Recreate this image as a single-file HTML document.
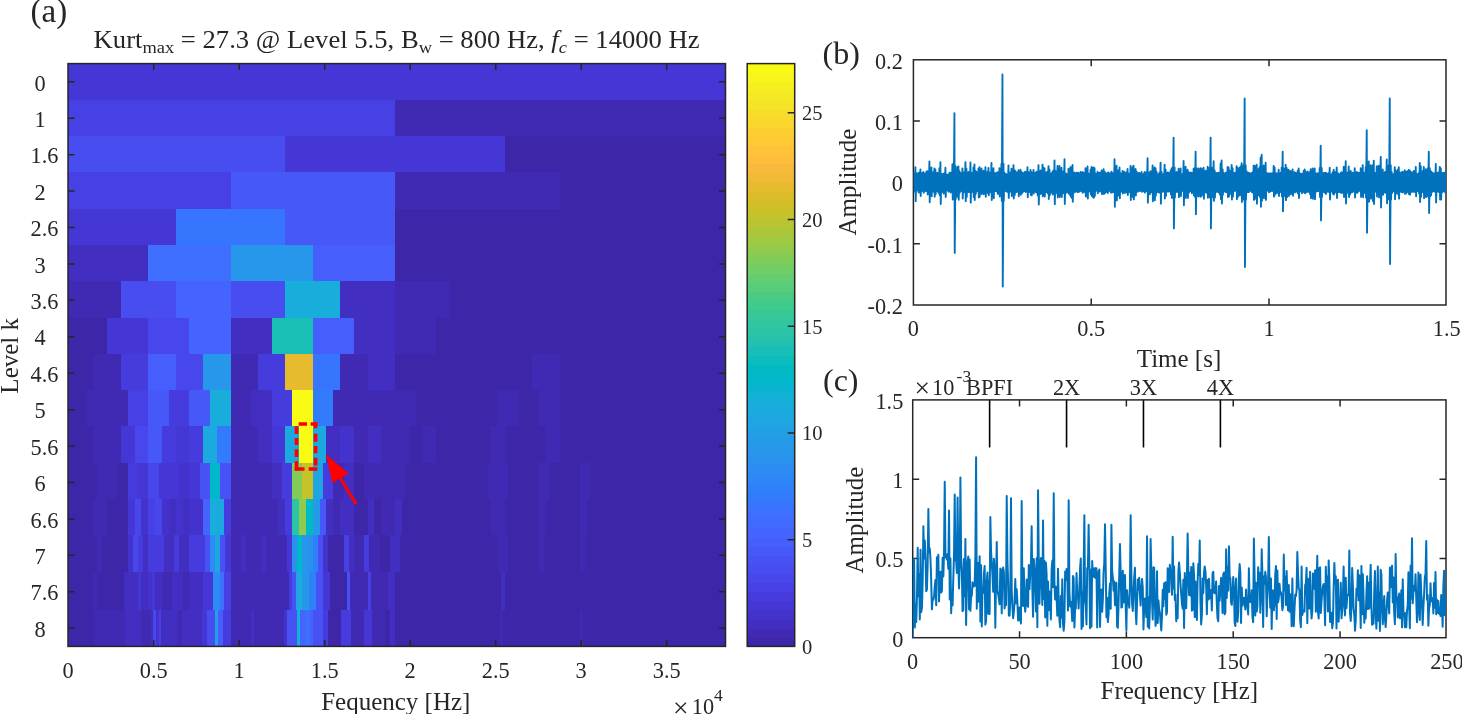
<!DOCTYPE html>
<html><head><meta charset="utf-8"><title>Kurtogram</title>
<style>html,body{margin:0;padding:0;background:#fff}svg{display:block}text{font-family:"Liberation Serif","Times New Roman",serif;fill:#262626}</style></head><body>
<svg width="1462" height="714" viewBox="0 0 1462 714">
<rect width="1462" height="714" fill="#fff"/>
<clipPath id="hc"><rect x="68" y="63.6" width="657.5" height="582.8"/></clipPath>
<g shape-rendering="crispEdges" clip-path="url(#hc)">
<rect x="68" y="63.6" width="657.5" height="582.8" fill="#3E26A8"/>
<rect x="66" y="63.6" width="661" height="36.4" fill="#4537D5"/>
<rect x="66" y="100" width="329" height="36.2" fill="#4741E5"/>
<rect x="395" y="100" width="332" height="36.2" fill="#402AB4"/>
<rect x="66" y="136.2" width="219.33" height="35.7" fill="#484DF0"/>
<rect x="285.33" y="136.2" width="219.33" height="35.7" fill="#4537D5"/>
<rect x="66" y="171.9" width="164.5" height="36.9" fill="#4741E5"/>
<rect x="230.5" y="171.9" width="164.5" height="36.9" fill="#4758F8"/>
<rect x="395" y="171.9" width="164.5" height="36.9" fill="#402AB4"/>
<rect x="66" y="208.8" width="109.67" height="36" fill="#4537D5"/>
<rect x="175.67" y="208.8" width="109.67" height="36" fill="#3875FE"/>
<rect x="285.33" y="208.8" width="109.67" height="36" fill="#4758F8"/>
<rect x="66" y="244.8" width="82.25" height="36" fill="#422EC0"/>
<rect x="148.25" y="244.8" width="82.25" height="36" fill="#3E6FFF"/>
<rect x="230.5" y="244.8" width="82.25" height="36" fill="#2797EB"/>
<rect x="312.75" y="244.8" width="82.25" height="36" fill="#465EFB"/>
<rect x="66" y="280.8" width="54.83" height="36.7" fill="#402AB4"/>
<rect x="120.83" y="280.8" width="54.83" height="36.7" fill="#484DF0"/>
<rect x="175.67" y="280.8" width="54.83" height="36.7" fill="#4563FD"/>
<rect x="230.5" y="280.8" width="54.83" height="36.7" fill="#484DF0"/>
<rect x="285.33" y="280.8" width="54.83" height="36.7" fill="#18ADDB"/>
<rect x="340.17" y="280.8" width="54.83" height="36.7" fill="#422EC0"/>
<rect x="395" y="280.8" width="54.83" height="36.7" fill="#402AB4"/>
<rect x="107.12" y="317.5" width="41.12" height="36.1" fill="#4537D5"/>
<rect x="148.25" y="317.5" width="41.12" height="36.1" fill="#4747EB"/>
<rect x="189.38" y="317.5" width="41.12" height="36.1" fill="#4563FD"/>
<rect x="230.5" y="317.5" width="41.12" height="36.1" fill="#422EC0"/>
<rect x="271.62" y="317.5" width="41.12" height="36.1" fill="#19BFB6"/>
<rect x="312.75" y="317.5" width="41.12" height="36.1" fill="#465EFB"/>
<rect x="353.88" y="317.5" width="41.12" height="36.1" fill="#422EC0"/>
<rect x="395" y="317.5" width="41.12" height="36.1" fill="#402AB4"/>
<rect x="93.42" y="353.6" width="27.42" height="36.4" fill="#402AB4"/>
<rect x="120.83" y="353.6" width="27.42" height="36.4" fill="#463CDE"/>
<rect x="148.25" y="353.6" width="27.42" height="36.4" fill="#465EFB"/>
<rect x="175.67" y="353.6" width="27.42" height="36.4" fill="#4747EB"/>
<rect x="203.08" y="353.6" width="27.42" height="36.4" fill="#2797EB"/>
<rect x="230.5" y="353.6" width="27.42" height="36.4" fill="#402AB4"/>
<rect x="257.92" y="353.6" width="27.42" height="36.4" fill="#463CDE"/>
<rect x="285.33" y="353.6" width="27.42" height="36.4" fill="#E6BB2D"/>
<rect x="312.75" y="353.6" width="27.42" height="36.4" fill="#3875FE"/>
<rect x="340.17" y="353.6" width="27.42" height="36.4" fill="#402AB4"/>
<rect x="367.58" y="353.6" width="27.42" height="36.4" fill="#422EC0"/>
<rect x="532.08" y="353.6" width="27.42" height="36.4" fill="#402AB4"/>
<rect x="86.56" y="390" width="41.12" height="35.8" fill="#402AB4"/>
<rect x="127.69" y="390" width="20.56" height="35.8" fill="#4741E5"/>
<rect x="148.25" y="390" width="20.56" height="35.8" fill="#4758F8"/>
<rect x="168.81" y="390" width="20.56" height="35.8" fill="#463CDE"/>
<rect x="189.38" y="390" width="20.56" height="35.8" fill="#4758F8"/>
<rect x="209.94" y="390" width="20.56" height="35.8" fill="#18ADDB"/>
<rect x="230.5" y="390" width="20.56" height="35.8" fill="#402AB4"/>
<rect x="251.06" y="390" width="20.56" height="35.8" fill="#422EC0"/>
<rect x="271.62" y="390" width="20.56" height="35.8" fill="#463CDE"/>
<rect x="292.19" y="390" width="20.56" height="35.8" fill="#F9FB15"/>
<rect x="312.75" y="390" width="20.56" height="35.8" fill="#327CFC"/>
<rect x="333.31" y="390" width="82.25" height="35.8" fill="#402AB4"/>
<rect x="497.81" y="390" width="20.56" height="35.8" fill="#402AB4"/>
<rect x="538.94" y="390" width="20.56" height="35.8" fill="#402AB4"/>
<rect x="93.42" y="425.8" width="27.42" height="36.7" fill="#402AB4"/>
<rect x="120.83" y="425.8" width="13.71" height="36.7" fill="#4537D5"/>
<rect x="134.54" y="425.8" width="13.71" height="36.7" fill="#4747EB"/>
<rect x="148.25" y="425.8" width="13.71" height="36.7" fill="#4758F8"/>
<rect x="161.96" y="425.8" width="13.71" height="36.7" fill="#463CDE"/>
<rect x="175.67" y="425.8" width="13.71" height="36.7" fill="#4537D5"/>
<rect x="189.38" y="425.8" width="13.71" height="36.7" fill="#463CDE"/>
<rect x="203.08" y="425.8" width="13.71" height="36.7" fill="#1CA9DF"/>
<rect x="216.79" y="425.8" width="13.71" height="36.7" fill="#327CFC"/>
<rect x="230.5" y="425.8" width="27.42" height="36.7" fill="#402AB4"/>
<rect x="257.92" y="425.8" width="13.71" height="36.7" fill="#422EC0"/>
<rect x="271.62" y="425.8" width="13.71" height="36.7" fill="#4537D5"/>
<rect x="285.33" y="425.8" width="13.71" height="36.7" fill="#1CA9DF"/>
<rect x="299.04" y="425.8" width="13.71" height="36.7" fill="#F9FB15"/>
<rect x="312.75" y="425.8" width="13.71" height="36.7" fill="#1CA9DF"/>
<rect x="326.46" y="425.8" width="13.71" height="36.7" fill="#422EC0"/>
<rect x="340.17" y="425.8" width="13.71" height="36.7" fill="#4332CB"/>
<rect x="353.88" y="425.8" width="13.71" height="36.7" fill="#402AB4"/>
<rect x="367.58" y="425.8" width="13.71" height="36.7" fill="#422EC0"/>
<rect x="381.29" y="425.8" width="27.42" height="36.7" fill="#402AB4"/>
<rect x="422.42" y="425.8" width="13.71" height="36.7" fill="#402AB4"/>
<rect x="490.96" y="425.8" width="13.71" height="36.7" fill="#402AB4"/>
<rect x="545.79" y="425.8" width="13.71" height="36.7" fill="#402AB4"/>
<rect x="96.84" y="462.5" width="20.56" height="36.5" fill="#402AB4"/>
<rect x="127.69" y="462.5" width="10.28" height="36.5" fill="#463CDE"/>
<rect x="137.97" y="462.5" width="10.28" height="36.5" fill="#4537D5"/>
<rect x="148.25" y="462.5" width="10.28" height="36.5" fill="#4747EB"/>
<rect x="158.53" y="462.5" width="20.56" height="36.5" fill="#4537D5"/>
<rect x="179.09" y="462.5" width="10.28" height="36.5" fill="#4332CB"/>
<rect x="189.38" y="462.5" width="10.28" height="36.5" fill="#4537D5"/>
<rect x="199.66" y="462.5" width="10.28" height="36.5" fill="#4852F4"/>
<rect x="209.94" y="462.5" width="10.28" height="36.5" fill="#01B8CA"/>
<rect x="220.22" y="462.5" width="10.28" height="36.5" fill="#4852F4"/>
<rect x="230.5" y="462.5" width="41.12" height="36.5" fill="#402AB4"/>
<rect x="271.62" y="462.5" width="10.28" height="36.5" fill="#422EC0"/>
<rect x="281.91" y="462.5" width="10.28" height="36.5" fill="#463CDE"/>
<rect x="292.19" y="462.5" width="10.28" height="36.5" fill="#81CC59"/>
<rect x="302.47" y="462.5" width="10.28" height="36.5" fill="#C5C22A"/>
<rect x="312.75" y="462.5" width="10.28" height="36.5" fill="#20A5E3"/>
<rect x="323.03" y="462.5" width="10.28" height="36.5" fill="#463CDE"/>
<rect x="333.31" y="462.5" width="10.28" height="36.5" fill="#402AB4"/>
<rect x="343.59" y="462.5" width="10.28" height="36.5" fill="#422EC0"/>
<rect x="364.16" y="462.5" width="41.12" height="36.5" fill="#402AB4"/>
<rect x="487.53" y="462.5" width="20.56" height="36.5" fill="#402AB4"/>
<rect x="538.94" y="462.5" width="10.28" height="36.5" fill="#402AB4"/>
<rect x="580.06" y="462.5" width="10.28" height="36.5" fill="#402AB4"/>
<rect x="93.42" y="499" width="13.71" height="35.9" fill="#402AB4"/>
<rect x="127.69" y="499" width="6.85" height="35.9" fill="#4537D5"/>
<rect x="134.54" y="499" width="6.85" height="35.9" fill="#4747EB"/>
<rect x="141.4" y="499" width="6.85" height="35.9" fill="#4332CB"/>
<rect x="148.25" y="499" width="6.85" height="35.9" fill="#4741E5"/>
<rect x="155.1" y="499" width="6.85" height="35.9" fill="#4747EB"/>
<rect x="161.96" y="499" width="6.85" height="35.9" fill="#4332CB"/>
<rect x="168.81" y="499" width="6.85" height="35.9" fill="#422EC0"/>
<rect x="175.67" y="499" width="6.85" height="35.9" fill="#4332CB"/>
<rect x="182.52" y="499" width="6.85" height="35.9" fill="#422EC0"/>
<rect x="189.38" y="499" width="13.71" height="35.9" fill="#4332CB"/>
<rect x="203.08" y="499" width="6.85" height="35.9" fill="#4563FD"/>
<rect x="209.94" y="499" width="6.85" height="35.9" fill="#18ADDB"/>
<rect x="216.79" y="499" width="6.85" height="35.9" fill="#1CA9DF"/>
<rect x="223.65" y="499" width="6.85" height="35.9" fill="#463CDE"/>
<rect x="230.5" y="499" width="47.98" height="35.9" fill="#402AB4"/>
<rect x="278.48" y="499" width="6.85" height="35.9" fill="#422EC0"/>
<rect x="285.33" y="499" width="6.85" height="35.9" fill="#463CDE"/>
<rect x="292.19" y="499" width="6.85" height="35.9" fill="#2CC4A7"/>
<rect x="299.04" y="499" width="6.85" height="35.9" fill="#8FCB4E"/>
<rect x="305.9" y="499" width="6.85" height="35.9" fill="#02BAC3"/>
<rect x="312.75" y="499" width="6.85" height="35.9" fill="#259BE8"/>
<rect x="319.6" y="499" width="6.85" height="35.9" fill="#4758F8"/>
<rect x="326.46" y="499" width="6.85" height="35.9" fill="#422EC0"/>
<rect x="333.31" y="499" width="6.85" height="35.9" fill="#402AB4"/>
<rect x="340.17" y="499" width="13.71" height="35.9" fill="#422EC0"/>
<rect x="367.58" y="499" width="6.85" height="35.9" fill="#422EC0"/>
<rect x="381.29" y="499" width="13.71" height="35.9" fill="#402AB4"/>
<rect x="395" y="499" width="6.85" height="35.9" fill="#422EC0"/>
<rect x="490.96" y="499" width="13.71" height="35.9" fill="#402AB4"/>
<rect x="538.94" y="499" width="6.85" height="35.9" fill="#402AB4"/>
<rect x="580.06" y="499" width="6.85" height="35.9" fill="#402AB4"/>
<rect x="96.84" y="534.9" width="5.14" height="37.1" fill="#402AB4"/>
<rect x="127.69" y="534.9" width="5.14" height="37.1" fill="#4332CB"/>
<rect x="132.83" y="534.9" width="5.14" height="37.1" fill="#4747EB"/>
<rect x="137.97" y="534.9" width="5.14" height="37.1" fill="#463CDE"/>
<rect x="143.11" y="534.9" width="5.14" height="37.1" fill="#422EC0"/>
<rect x="148.25" y="534.9" width="15.42" height="37.1" fill="#463CDE"/>
<rect x="163.67" y="534.9" width="10.28" height="37.1" fill="#422EC0"/>
<rect x="173.95" y="534.9" width="5.14" height="37.1" fill="#463CDE"/>
<rect x="179.09" y="534.9" width="10.28" height="37.1" fill="#422EC0"/>
<rect x="189.38" y="534.9" width="15.42" height="37.1" fill="#463CDE"/>
<rect x="204.8" y="534.9" width="5.14" height="37.1" fill="#4852F4"/>
<rect x="209.94" y="534.9" width="5.14" height="37.1" fill="#2D8CF3"/>
<rect x="215.08" y="534.9" width="5.14" height="37.1" fill="#20A5E3"/>
<rect x="220.22" y="534.9" width="5.14" height="37.1" fill="#4852F4"/>
<rect x="225.36" y="534.9" width="5.14" height="37.1" fill="#4537D5"/>
<rect x="230.5" y="534.9" width="10.28" height="37.1" fill="#402AB4"/>
<rect x="240.78" y="534.9" width="5.14" height="37.1" fill="#422EC0"/>
<rect x="245.92" y="534.9" width="15.42" height="37.1" fill="#402AB4"/>
<rect x="261.34" y="534.9" width="5.14" height="37.1" fill="#422EC0"/>
<rect x="266.48" y="534.9" width="20.56" height="37.1" fill="#402AB4"/>
<rect x="287.05" y="534.9" width="5.14" height="37.1" fill="#4537D5"/>
<rect x="292.19" y="534.9" width="5.14" height="37.1" fill="#2B91EF"/>
<rect x="297.33" y="534.9" width="5.14" height="37.1" fill="#01B8CA"/>
<rect x="302.47" y="534.9" width="5.14" height="37.1" fill="#2797EB"/>
<rect x="307.61" y="534.9" width="5.14" height="37.1" fill="#2B91EF"/>
<rect x="312.75" y="534.9" width="5.14" height="37.1" fill="#2F81FA"/>
<rect x="317.89" y="534.9" width="5.14" height="37.1" fill="#4852F4"/>
<rect x="323.03" y="534.9" width="5.14" height="37.1" fill="#4332CB"/>
<rect x="343.59" y="534.9" width="5.14" height="37.1" fill="#4741E5"/>
<rect x="348.73" y="534.9" width="5.14" height="37.1" fill="#422EC0"/>
<rect x="353.88" y="534.9" width="10.28" height="37.1" fill="#402AB4"/>
<rect x="364.16" y="534.9" width="5.14" height="37.1" fill="#463CDE"/>
<rect x="369.3" y="534.9" width="10.28" height="37.1" fill="#402AB4"/>
<rect x="389.86" y="534.9" width="10.28" height="37.1" fill="#422EC0"/>
<rect x="497.81" y="534.9" width="10.28" height="37.1" fill="#402AB4"/>
<rect x="538.94" y="534.9" width="5.14" height="37.1" fill="#402AB4"/>
<rect x="580.06" y="534.9" width="5.14" height="37.1" fill="#402AB4"/>
<rect x="93.42" y="572" width="3.43" height="37.5" fill="#402AB4"/>
<rect x="124.26" y="572" width="13.71" height="37.5" fill="#422EC0"/>
<rect x="137.97" y="572" width="3.43" height="37.5" fill="#4537D5"/>
<rect x="141.4" y="572" width="6.85" height="37.5" fill="#422EC0"/>
<rect x="148.25" y="572" width="3.43" height="37.5" fill="#4332CB"/>
<rect x="151.68" y="572" width="3.43" height="37.5" fill="#4537D5"/>
<rect x="155.1" y="572" width="6.85" height="37.5" fill="#422EC0"/>
<rect x="161.96" y="572" width="10.28" height="37.5" fill="#402AB4"/>
<rect x="172.24" y="572" width="10.28" height="37.5" fill="#422EC0"/>
<rect x="182.52" y="572" width="6.85" height="37.5" fill="#402AB4"/>
<rect x="189.38" y="572" width="13.71" height="37.5" fill="#422EC0"/>
<rect x="203.08" y="572" width="10.28" height="37.5" fill="#4537D5"/>
<rect x="213.36" y="572" width="6.85" height="37.5" fill="#2D8CF3"/>
<rect x="220.22" y="572" width="3.43" height="37.5" fill="#3E6FFF"/>
<rect x="223.65" y="572" width="6.85" height="37.5" fill="#4741E5"/>
<rect x="230.5" y="572" width="58.26" height="37.5" fill="#402AB4"/>
<rect x="288.76" y="572" width="3.43" height="37.5" fill="#463CDE"/>
<rect x="292.19" y="572" width="3.43" height="37.5" fill="#4852F4"/>
<rect x="295.61" y="572" width="3.43" height="37.5" fill="#20A5E3"/>
<rect x="299.04" y="572" width="3.43" height="37.5" fill="#18ADDB"/>
<rect x="302.47" y="572" width="6.85" height="37.5" fill="#2797EB"/>
<rect x="309.32" y="572" width="6.85" height="37.5" fill="#2F81FA"/>
<rect x="316.18" y="572" width="6.85" height="37.5" fill="#4852F4"/>
<rect x="323.03" y="572" width="6.85" height="37.5" fill="#4537D5"/>
<rect x="347.02" y="572" width="3.43" height="37.5" fill="#4852F4"/>
<rect x="350.45" y="572" width="17.14" height="37.5" fill="#402AB4"/>
<rect x="367.58" y="572" width="3.43" height="37.5" fill="#4741E5"/>
<rect x="371.01" y="572" width="17.14" height="37.5" fill="#402AB4"/>
<rect x="388.15" y="572" width="6.85" height="37.5" fill="#422EC0"/>
<rect x="501.24" y="572" width="3.43" height="37.5" fill="#422EC0"/>
<rect x="94.27" y="609.5" width="30.84" height="36.9" fill="#402AB4"/>
<rect x="125.12" y="609.5" width="15.42" height="36.9" fill="#422EC0"/>
<rect x="140.54" y="609.5" width="10.28" height="36.9" fill="#402AB4"/>
<rect x="150.82" y="609.5" width="2.57" height="36.9" fill="#422EC0"/>
<rect x="153.39" y="609.5" width="2.57" height="36.9" fill="#4747EB"/>
<rect x="155.96" y="609.5" width="2.57" height="36.9" fill="#4332CB"/>
<rect x="158.53" y="609.5" width="2.57" height="36.9" fill="#4741E5"/>
<rect x="161.1" y="609.5" width="15.42" height="36.9" fill="#422EC0"/>
<rect x="176.52" y="609.5" width="5.14" height="36.9" fill="#402AB4"/>
<rect x="181.66" y="609.5" width="20.56" height="36.9" fill="#422EC0"/>
<rect x="202.23" y="609.5" width="5.14" height="36.9" fill="#4537D5"/>
<rect x="207.37" y="609.5" width="7.71" height="36.9" fill="#484DF0"/>
<rect x="215.08" y="609.5" width="2.57" height="36.9" fill="#23A0E5"/>
<rect x="217.65" y="609.5" width="5.14" height="36.9" fill="#465EFB"/>
<rect x="222.79" y="609.5" width="7.71" height="36.9" fill="#463CDE"/>
<rect x="230.5" y="609.5" width="20.56" height="36.9" fill="#402AB4"/>
<rect x="251.06" y="609.5" width="2.57" height="36.9" fill="#422EC0"/>
<rect x="253.63" y="609.5" width="30.84" height="36.9" fill="#402AB4"/>
<rect x="284.48" y="609.5" width="2.57" height="36.9" fill="#4332CB"/>
<rect x="287.05" y="609.5" width="10.28" height="36.9" fill="#4852F4"/>
<rect x="297.33" y="609.5" width="2.57" height="36.9" fill="#12B1D6"/>
<rect x="299.9" y="609.5" width="5.14" height="36.9" fill="#4563FD"/>
<rect x="305.04" y="609.5" width="5.14" height="36.9" fill="#3E6FFF"/>
<rect x="310.18" y="609.5" width="2.57" height="36.9" fill="#4563FD"/>
<rect x="312.75" y="609.5" width="10.28" height="36.9" fill="#4852F4"/>
<rect x="323.03" y="609.5" width="5.14" height="36.9" fill="#463CDE"/>
<rect x="341.02" y="609.5" width="10.28" height="36.9" fill="#463CDE"/>
<rect x="351.3" y="609.5" width="12.85" height="36.9" fill="#402AB4"/>
<rect x="364.16" y="609.5" width="7.71" height="36.9" fill="#4537D5"/>
<rect x="371.87" y="609.5" width="12.85" height="36.9" fill="#402AB4"/>
<rect x="389.86" y="609.5" width="5.14" height="36.9" fill="#422EC0"/>
<rect x="500.38" y="609.5" width="2.57" height="36.9" fill="#402AB4"/>
<rect x="580.06" y="609.5" width="2.57" height="36.9" fill="#402AB4"/>
</g>
<g stroke="#262626" stroke-width="1.5" fill="none">
<rect x="68" y="63.6" width="657.5" height="582.8"/>
<path d="M153.7 646.4v-6.5M153.7 63.6v6.5M239.2 646.4v-6.5M239.2 63.6v6.5M324.7 646.4v-6.5M324.7 63.6v6.5M410.2 646.4v-6.5M410.2 63.6v6.5M495.7 646.4v-6.5M495.7 63.6v6.5M581.2 646.4v-6.5M581.2 63.6v6.5M666.7 646.4v-6.5M666.7 63.6v6.5M68 81.81h6.5M725.5 81.81h-6.5M68 118.24h6.5M725.5 118.24h-6.5M68 154.66h6.5M725.5 154.66h-6.5M68 191.09h6.5M725.5 191.09h-6.5M68 227.51h6.5M725.5 227.51h-6.5M68 263.94h6.5M725.5 263.94h-6.5M68 300.36h6.5M725.5 300.36h-6.5M68 336.79h6.5M725.5 336.79h-6.5M68 373.21h6.5M725.5 373.21h-6.5M68 409.64h6.5M725.5 409.64h-6.5M68 446.06h6.5M725.5 446.06h-6.5M68 482.49h6.5M725.5 482.49h-6.5M68 518.91h6.5M725.5 518.91h-6.5M68 555.34h6.5M725.5 555.34h-6.5M68 591.76h6.5M725.5 591.76h-6.5M68 628.19h6.5M725.5 628.19h-6.5"/>
</g>
<text x="40" y="90.51" font-size="22.3" text-anchor="middle">0</text>
<text x="40" y="126.94" font-size="22.3" text-anchor="middle">1</text>
<text x="44.5" y="163.36" font-size="22.3" text-anchor="middle">1.6</text>
<text x="40" y="199.79" font-size="22.3" text-anchor="middle">2</text>
<text x="44.5" y="236.21" font-size="22.3" text-anchor="middle">2.6</text>
<text x="40" y="272.64" font-size="22.3" text-anchor="middle">3</text>
<text x="44.5" y="309.06" font-size="22.3" text-anchor="middle">3.6</text>
<text x="40" y="345.49" font-size="22.3" text-anchor="middle">4</text>
<text x="44.5" y="381.91" font-size="22.3" text-anchor="middle">4.6</text>
<text x="40" y="418.34" font-size="22.3" text-anchor="middle">5</text>
<text x="44.5" y="454.76" font-size="22.3" text-anchor="middle">5.6</text>
<text x="40" y="491.19" font-size="22.3" text-anchor="middle">6</text>
<text x="44.5" y="527.61" font-size="22.3" text-anchor="middle">6.6</text>
<text x="40" y="564.04" font-size="22.3" text-anchor="middle">7</text>
<text x="44.5" y="600.46" font-size="22.3" text-anchor="middle">7.6</text>
<text x="40" y="636.89" font-size="22.3" text-anchor="middle">8</text>
<text x="68.2" y="678.3" font-size="22.3" text-anchor="middle">0</text>
<text x="153.7" y="678.3" font-size="22.3" text-anchor="middle">0.5</text>
<text x="239.2" y="678.3" font-size="22.3" text-anchor="middle">1</text>
<text x="324.7" y="678.3" font-size="22.3" text-anchor="middle">1.5</text>
<text x="410.2" y="678.3" font-size="22.3" text-anchor="middle">2</text>
<text x="495.7" y="678.3" font-size="22.3" text-anchor="middle">2.5</text>
<text x="581.2" y="678.3" font-size="22.3" text-anchor="middle">3</text>
<text x="666.7" y="678.3" font-size="22.3" text-anchor="middle">3.5</text>
<text x="395.8" y="709.8" font-size="25" text-anchor="middle">Fequency [Hz]</text>
<text x="673" y="716.6" font-size="22.3"><tspan font-size="27.5">×</tspan><tspan x="691.8" y="714">10</tspan><tspan dy="-13" font-size="17.5">4</tspan></text>
<text transform="translate(17.9,355.8) rotate(-90)" font-size="25" text-anchor="middle">Level k</text>
<text x="30.5" y="22.4" font-size="33" fill="#000">(a)</text>
<text transform="translate(93.6,48.4) scale(1.066,1)" font-size="25.0" fill="#000">Kurt<tspan dy="5" font-size="17.3">max</tspan><tspan dy="-5"> = 27.3 @ Level 5.5, B</tspan><tspan dy="5" font-size="17.3">w</tspan><tspan dy="-5"> = 800 Hz, </tspan><tspan font-style="italic">f</tspan><tspan dy="5" font-size="17.3" font-style="italic">c</tspan><tspan dy="-5"> = 14000 Hz</tspan></text>
<g stroke="#FF0000" stroke-width="3.6" fill="none">
<path d="M296.5 424V470.8" stroke-dasharray="0 2.2 7.7 4.2 7 4.2 7.7 4.2 9.6"/>
<path d="M294.7 469H317.4" stroke-dasharray="9.8 4.2 8.7"/>
<path d="M315.6 470.8V422.2" stroke-dasharray="0 5.2 7.9 4.4 7.3 4.3 7.9 5.5 6.1"/>
<path d="M317.4 424H294.7" stroke-dasharray="6.8 3.5 8.4 4"/>
</g>
<path d="M356.2 504.1L340.5 478.3" stroke="#FF0000" stroke-width="3" fill="none"/>
<path d="M326 454.2L348.6 473.6L332.3 482.9Z" fill="#FF0000"/>
<g shape-rendering="crispEdges">
<rect x="747.2" y="637.29" width="47.5" height="9.61" fill="#3E26A8"/>
<rect x="747.2" y="628.19" width="47.5" height="9.61" fill="#402AB4"/>
<rect x="747.2" y="619.08" width="47.5" height="9.61" fill="#422EC0"/>
<rect x="747.2" y="609.98" width="47.5" height="9.61" fill="#4332CB"/>
<rect x="747.2" y="600.87" width="47.5" height="9.61" fill="#4537D5"/>
<rect x="747.2" y="591.76" width="47.5" height="9.61" fill="#463CDE"/>
<rect x="747.2" y="582.66" width="47.5" height="9.61" fill="#4741E5"/>
<rect x="747.2" y="573.55" width="47.5" height="9.61" fill="#4747EB"/>
<rect x="747.2" y="564.44" width="47.5" height="9.61" fill="#484DF0"/>
<rect x="747.2" y="555.34" width="47.5" height="9.61" fill="#4852F4"/>
<rect x="747.2" y="546.23" width="47.5" height="9.61" fill="#4758F8"/>
<rect x="747.2" y="537.12" width="47.5" height="9.61" fill="#465EFB"/>
<rect x="747.2" y="528.02" width="47.5" height="9.61" fill="#4563FD"/>
<rect x="747.2" y="518.91" width="47.5" height="9.61" fill="#4269FE"/>
<rect x="747.2" y="509.81" width="47.5" height="9.61" fill="#3E6FFF"/>
<rect x="747.2" y="500.7" width="47.5" height="9.61" fill="#3875FE"/>
<rect x="747.2" y="491.59" width="47.5" height="9.61" fill="#327CFC"/>
<rect x="747.2" y="482.49" width="47.5" height="9.61" fill="#2F81FA"/>
<rect x="747.2" y="473.38" width="47.5" height="9.61" fill="#2E87F7"/>
<rect x="747.2" y="464.27" width="47.5" height="9.61" fill="#2D8CF3"/>
<rect x="747.2" y="455.17" width="47.5" height="9.61" fill="#2B91EF"/>
<rect x="747.2" y="446.06" width="47.5" height="9.61" fill="#2797EB"/>
<rect x="747.2" y="436.96" width="47.5" height="9.61" fill="#259BE8"/>
<rect x="747.2" y="427.85" width="47.5" height="9.61" fill="#23A0E5"/>
<rect x="747.2" y="418.74" width="47.5" height="9.61" fill="#20A5E3"/>
<rect x="747.2" y="409.64" width="47.5" height="9.61" fill="#1CA9DF"/>
<rect x="747.2" y="400.53" width="47.5" height="9.61" fill="#18ADDB"/>
<rect x="747.2" y="391.43" width="47.5" height="9.61" fill="#12B1D6"/>
<rect x="747.2" y="382.32" width="47.5" height="9.61" fill="#08B5D0"/>
<rect x="747.2" y="373.21" width="47.5" height="9.61" fill="#01B8CA"/>
<rect x="747.2" y="364.11" width="47.5" height="9.61" fill="#02BAC3"/>
<rect x="747.2" y="355" width="47.5" height="9.61" fill="#0BBDBD"/>
<rect x="747.2" y="345.89" width="47.5" height="9.61" fill="#19BFB6"/>
<rect x="747.2" y="336.79" width="47.5" height="9.61" fill="#24C1AE"/>
<rect x="747.2" y="327.68" width="47.5" height="9.61" fill="#2CC4A7"/>
<rect x="747.2" y="318.57" width="47.5" height="9.61" fill="#31C69F"/>
<rect x="747.2" y="309.47" width="47.5" height="9.61" fill="#37C897"/>
<rect x="747.2" y="300.36" width="47.5" height="9.61" fill="#3FCA8E"/>
<rect x="747.2" y="291.26" width="47.5" height="9.61" fill="#4ACB84"/>
<rect x="747.2" y="282.15" width="47.5" height="9.61" fill="#57CC7A"/>
<rect x="747.2" y="273.04" width="47.5" height="9.61" fill="#64CD6F"/>
<rect x="747.2" y="263.94" width="47.5" height="9.61" fill="#72CD64"/>
<rect x="747.2" y="254.83" width="47.5" height="9.61" fill="#81CC59"/>
<rect x="747.2" y="245.73" width="47.5" height="9.61" fill="#8FCB4E"/>
<rect x="747.2" y="236.62" width="47.5" height="9.61" fill="#9DC943"/>
<rect x="747.2" y="227.51" width="47.5" height="9.61" fill="#ABC739"/>
<rect x="747.2" y="218.41" width="47.5" height="9.61" fill="#B9C431"/>
<rect x="747.2" y="209.3" width="47.5" height="9.61" fill="#C5C22A"/>
<rect x="747.2" y="200.19" width="47.5" height="9.61" fill="#D1BF27"/>
<rect x="747.2" y="191.09" width="47.5" height="9.61" fill="#DCBD29"/>
<rect x="747.2" y="181.98" width="47.5" height="9.61" fill="#E6BB2D"/>
<rect x="747.2" y="172.88" width="47.5" height="9.61" fill="#F0BA36"/>
<rect x="747.2" y="163.77" width="47.5" height="9.61" fill="#F8BA3D"/>
<rect x="747.2" y="154.66" width="47.5" height="9.61" fill="#FEBE3C"/>
<rect x="747.2" y="145.56" width="47.5" height="9.61" fill="#FEC338"/>
<rect x="747.2" y="136.45" width="47.5" height="9.61" fill="#FEC934"/>
<rect x="747.2" y="127.34" width="47.5" height="9.61" fill="#FCCF30"/>
<rect x="747.2" y="118.24" width="47.5" height="9.61" fill="#FAD62D"/>
<rect x="747.2" y="109.13" width="47.5" height="9.61" fill="#F7DC2A"/>
<rect x="747.2" y="100.02" width="47.5" height="9.61" fill="#F5E327"/>
<rect x="747.2" y="90.92" width="47.5" height="9.61" fill="#F5E924"/>
<rect x="747.2" y="81.81" width="47.5" height="9.61" fill="#F6EF20"/>
<rect x="747.2" y="72.71" width="47.5" height="9.61" fill="#F7F51B"/>
<rect x="747.2" y="63.6" width="47.5" height="9.61" fill="#F9FB15"/>
</g>
<g stroke="#262626" stroke-width="1.5" fill="none"><rect x="747.2" y="63.6" width="47.5" height="582.8"/>
<path d="M794.7 539.66h-7M794.7 432.92h-7M794.7 326.18h-7M794.7 219.44h-7M794.7 112.7h-7"/></g>
<text x="802" y="653.9" font-size="20.5">0</text>
<text x="802" y="547.16" font-size="20.5">5</text>
<text x="802" y="440.42" font-size="20.5">10</text>
<text x="802" y="333.68" font-size="20.5">15</text>
<text x="802" y="226.94" font-size="20.5">20</text>
<text x="802" y="120.2" font-size="20.5">25</text>
<g stroke="#262626" stroke-width="1.5" fill="none">
<rect x="913.4" y="59.8" width="532.6" height="245.2"/>
<path d="M1091.2 305v-6.5M1091.2 59.8v6.5M1269 305v-6.5M1269 59.8v6.5M913.4 121.1h6.5M1446 121.1h-6.5M913.4 182.4h6.5M1446 182.4h-6.5M913.4 243.7h6.5M1446 243.7h-6.5"/>
</g>
<clipPath id="cb"><rect x="913.4" y="59.8" width="532.6" height="245.2"/></clipPath>
<g clip-path="url(#cb)"><path d="M914.2 173.27 914.5 191.43 914.4 173.34 914.7 190.49 915.4 167.32 915.7 201.17 916.4 173.23 916.7 190.65 917.4 174.72 917.7 189.75 918.4 172.93 918.7 192.6 919.4 172.48 919.7 191.8 920.41 169.37 920.71 195.95 921.41 173.65 921.71 191.06 922.41 172.87 922.71 190.73 923.41 172.05 923.71 192.69 924.41 174.37 924.71 191.42 925.41 173.44 925.71 190.61 926.41 171.76 926.71 191.14 927.41 171.21 927.71 194.48 928.41 171.75 928.71 192.05 929.41 161.5 929.71 202.26 930.41 171.87 930.71 193.6 931.41 167.39 931.71 196.33 932.41 173.87 932.71 191.59 933.42 172.04 933.72 191.7 934.42 168.48 934.72 196.65 935.42 169.7 935.72 194.08 936.42 174.38 936.72 190.89 937.42 172.66 937.72 191.48 938.42 173.11 938.72 193 939.42 168.14 939.72 195.2 940.42 162.23 940.72 204.07 941.42 173.82 941.72 189.83 942.42 174.12 942.72 191.96 943.42 173.84 943.72 193.61 944.42 173.06 944.72 191.65 945.42 167.8 945.72 196.98 946.42 174.46 946.72 190.03 947.43 174.63 947.73 190.44 948.43 174.87 948.73 191.8 949.43 172.67 949.73 191 950.43 172.61 950.73 192.53 951.43 173.35 951.73 190.8 952.43 164.18 952.73 199.57 953.43 165.99 953.73 198.89 954.43 113.31 954.73 252.89 955.43 165.99 955.73 198.89 956.43 172.46 956.73 190.85 957.43 167.27 957.73 196.89 958.43 166.45 958.73 199.74 959.43 171.12 959.73 192.66 960.44 172.83 960.74 191.18 961.44 173.47 961.74 189.81 962.44 168.38 962.74 198.53 963.44 172.26 963.74 192.45 964.44 173.29 964.74 191.4 965.44 162.08 965.74 201.13 966.44 168.76 966.74 197.03 967.44 173.87 967.74 190.69 968.44 172.07 968.74 192.16 969.44 173.68 969.74 190.85 970.44 162.34 970.74 202.66 971.44 172.78 971.74 192.25 972.44 173.64 972.74 190.86 973.45 167.39 973.75 197.16 974.45 164.35 974.75 200.04 975.45 170.85 975.75 194.04 976.45 171.87 976.75 191.25 977.45 172.81 977.75 191.38 978.45 168.59 978.75 197.37 979.45 167.09 979.75 196.68 980.45 173.46 980.75 191.39 981.45 168.44 981.75 194.09 982.45 173.07 982.75 192.36 983.45 170.63 983.75 194.24 984.45 171.78 984.75 192.6 985.45 167.14 985.75 196.84 986.45 173.96 986.75 191.35 987.46 171.67 987.76 192.99 988.46 167.93 988.76 195.23 989.46 172.36 989.76 192.43 990.46 173.63 990.76 191.13 991.46 162.89 991.76 200.02 992.46 173.14 992.76 189.92 993.46 168.18 993.76 198.34 994.46 173.02 994.76 191.02 995.46 173.59 995.76 190.94 996.46 172.92 996.76 191.37 997.46 172.29 997.76 193.87 998.46 172.28 998.76 192.9 999.46 168.24 999.76 196.56 1000.47 174.28 1000.77 190.53 1001.47 163.67 1001.77 200.91 1002.47 74.51 1002.77 286.61 1003.47 163.67 1003.77 200.91 1004.47 172.8 1004.77 191.11 1005.47 174.21 1005.77 190.55 1006.47 174.08 1006.77 191.48 1007.47 174.09 1007.77 192.02 1008.47 165.4 1008.77 197.91 1009.47 175 1009.77 191.5 1010.47 172.31 1010.77 191.64 1011.47 168.65 1011.77 195.96 1012.47 173.86 1012.77 191.64 1013.48 165.11 1013.78 198.55 1014.48 170.14 1014.78 194.88 1015.48 171.21 1015.78 192.22 1016.48 172.8 1016.78 191.84 1017.48 172.51 1017.78 191.86 1018.48 170.17 1018.78 196.24 1019.48 171.95 1019.78 193.14 1020.48 169.6 1020.78 194.75 1021.48 172.07 1021.78 193.56 1022.48 172.86 1022.78 192.02 1023.48 173.83 1023.78 191.24 1024.48 172.13 1024.78 191.04 1025.48 171.73 1025.78 192.01 1026.48 173.14 1026.78 190.64 1027.49 167.14 1027.79 197.22 1028.49 172.28 1028.79 191.11 1029.49 172.78 1029.79 192.08 1030.49 169.97 1030.79 194.81 1031.49 172.17 1031.79 195.38 1032.49 173.04 1032.79 190.74 1033.49 169.85 1033.79 193.46 1034.49 172.74 1034.79 191.05 1035.49 173.69 1035.79 192.01 1036.49 171.67 1036.79 192.63 1037.49 171.86 1037.79 195.41 1038.49 165.08 1038.79 204.49 1039.49 173.28 1039.79 190.11 1040.5 170.45 1040.8 193.95 1041.5 170.49 1041.8 192.57 1042.5 164.58 1042.8 196.38 1043.5 167.59 1043.8 195.47 1044.5 168.55 1044.8 196.59 1045.5 173.3 1045.8 192.2 1046.5 172.41 1046.8 192.16 1047.5 171.5 1047.8 193.25 1048.5 166.08 1048.8 199.04 1049.5 169.82 1049.8 195.16 1050.5 173.56 1050.8 192.93 1051.5 173.43 1051.8 191.43 1052.5 171.72 1052.8 194.49 1053.51 170.37 1053.81 193 1054.51 160.55 1054.81 204.13 1055.51 171.07 1055.81 193.39 1056.51 173.59 1056.81 191.2 1057.51 165.91 1057.81 197.44 1058.51 172.6 1058.81 192.74 1059.51 165.88 1059.81 196.95 1060.51 174.54 1060.81 190.44 1061.51 167.75 1061.81 197.08 1062.51 172.04 1062.81 192.22 1063.51 171.12 1063.81 193.26 1064.51 159.31 1064.81 204.08 1065.51 173.1 1065.81 192.05 1066.51 173.9 1066.81 192.67 1067.52 174.33 1067.82 191.6 1068.52 168.63 1068.82 193.57 1069.52 169.87 1069.82 194.77 1070.52 166.84 1070.82 196.5 1071.52 168.49 1071.82 198.06 1072.52 165.02 1072.82 201.7 1073.52 173.12 1073.82 192.64 1074.52 172.51 1074.82 191.81 1075.52 174.68 1075.82 191.71 1076.52 172.6 1076.82 190.37 1077.52 172.65 1077.82 192.12 1078.52 172.96 1078.82 191.89 1079.52 173.94 1079.82 191.09 1080.53 171.9 1080.83 190.49 1081.53 173.36 1081.83 191.56 1082.53 171.87 1082.83 192.8 1083.53 173.15 1083.83 191.47 1084.53 173 1084.83 191.93 1085.53 168.08 1085.83 196.49 1086.53 173.15 1086.83 192.01 1087.53 166.45 1087.83 198.58 1088.53 173.53 1088.83 190.58 1089.53 174.34 1089.83 191.54 1090.53 169.71 1090.83 194.37 1091.53 167.06 1091.83 195.88 1092.53 167.92 1092.83 197.09 1093.54 167.53 1093.84 197.84 1094.54 168.18 1094.84 195.89 1095.54 173.52 1095.84 190.89 1096.54 173.94 1096.84 190.42 1097.54 171.81 1097.84 193.13 1098.54 173.16 1098.84 190.76 1099.54 172.76 1099.84 191.45 1100.54 173.19 1100.84 190.86 1101.54 170.46 1101.84 194.11 1102.54 173.92 1102.84 191.37 1103.54 169.1 1103.84 193.99 1104.54 171.58 1104.84 193.2 1105.54 173.19 1105.84 192.06 1106.54 174 1106.84 191.68 1107.55 172.81 1107.85 192.95 1108.55 172.38 1108.85 191.01 1109.55 174.06 1109.85 190.55 1110.55 173.31 1110.85 192.49 1111.55 171.63 1111.85 192.57 1112.55 173.38 1112.85 192.05 1113.55 173.12 1113.85 192.17 1114.55 159.21 1114.85 206.7 1115.55 166.87 1115.85 200.3 1116.55 165.6 1116.85 200.4 1117.55 174.77 1117.85 191.47 1118.55 170.2 1118.85 195.48 1119.55 167.5 1119.85 198.3 1120.56 173.09 1120.86 191.5 1121.56 173.86 1121.86 191.54 1122.56 171.03 1122.86 193.52 1123.56 171.83 1123.86 191.53 1124.56 171.93 1124.86 192.93 1125.56 173.96 1125.86 191.66 1126.56 172.52 1126.86 192.49 1127.56 168.85 1127.86 195.06 1128.56 173.57 1128.86 191.4 1129.56 173.38 1129.86 192.3 1130.56 165.91 1130.86 199.97 1131.56 173.67 1131.86 191.99 1132.56 167.26 1132.86 197.09 1133.57 165.66 1133.87 199.42 1134.57 172.24 1134.87 192.4 1135.57 169.07 1135.87 195.46 1136.57 171.62 1136.87 191.69 1137.57 173.17 1137.87 191.62 1138.57 173.31 1138.87 190.21 1139.57 173.01 1139.87 190.96 1140.57 174.73 1140.87 190.83 1141.57 172.03 1141.87 191.85 1142.57 174.64 1142.87 191.01 1143.57 173.97 1143.87 191.35 1144.57 172 1144.87 192.63 1145.57 175.01 1145.87 190.72 1146.57 172.02 1146.87 191.35 1147.58 158.32 1147.88 202.64 1148.58 174.06 1148.88 191.85 1149.58 172.51 1149.88 194.23 1150.58 171.31 1150.88 192 1151.58 172.33 1151.88 192.4 1152.58 165.57 1152.88 201.22 1153.58 174.23 1153.88 191.43 1154.58 167.51 1154.88 200.33 1155.58 168.5 1155.88 195.45 1156.58 171.59 1156.88 192.26 1157.58 174.23 1157.88 191.82 1158.58 174.25 1158.88 192.41 1159.58 172.37 1159.88 192.64 1160.59 162.62 1160.89 203.62 1161.59 171.91 1161.89 191.92 1162.59 174.36 1162.89 191.6 1163.59 174.07 1163.89 191.17 1164.59 164.68 1164.89 198.54 1165.59 169.6 1165.89 196.03 1166.59 172.85 1166.89 191.61 1167.59 172.42 1167.89 191.65 1168.59 172.78 1168.89 191.46 1169.59 174.36 1169.89 191.07 1170.59 170.82 1170.89 194.21 1171.59 168.57 1171.89 197.87 1172.59 167.46 1172.89 197.42 1173.6 137.65 1173.9 228.38 1174.6 167.46 1174.9 197.42 1175.6 173.17 1175.9 190.91 1176.6 171.98 1176.9 191.97 1177.6 173.88 1177.9 191.54 1178.6 168.7 1178.9 197.17 1179.6 173.55 1179.9 191.59 1180.6 168.56 1180.9 196.17 1181.6 174.6 1181.9 190.03 1182.6 174.07 1182.9 190.99 1183.6 161.06 1183.9 205.23 1184.6 173.4 1184.9 190.77 1185.6 166.65 1185.9 197.91 1186.6 172.16 1186.9 192.16 1187.61 169.65 1187.91 197.89 1188.61 172.46 1188.91 192.6 1189.61 173.08 1189.91 191.36 1190.61 172.55 1190.91 190.57 1191.61 173.21 1191.91 193.23 1192.61 172.92 1192.91 190.86 1193.61 168.71 1193.91 195.24 1194.61 168.3 1194.91 196.57 1195.61 151.75 1195.91 214.28 1196.61 168.3 1196.91 196.57 1197.61 172 1197.91 193.08 1198.61 168.35 1198.91 196.59 1199.61 172.35 1199.91 191.4 1200.62 168.23 1200.92 196.84 1201.62 168.81 1201.92 195.44 1202.62 171.99 1202.92 192.13 1203.62 167.7 1203.92 198.79 1204.62 173.7 1204.92 190.91 1205.62 170.78 1205.92 192.37 1206.62 173.22 1206.92 192.92 1207.62 166.82 1207.92 197.83 1208.62 172.74 1208.92 191.38 1209.62 167.46 1209.92 197.42 1210.62 137.65 1210.92 228.38 1211.62 167.46 1211.92 197.42 1212.62 169.68 1212.92 196.43 1213.63 161.24 1213.93 200.84 1214.63 170.34 1214.93 197.58 1215.63 172.99 1215.93 192.01 1216.63 172.83 1216.93 191.78 1217.63 173.8 1217.93 191.81 1218.63 172.62 1218.93 192.47 1219.63 172.6 1219.93 194.65 1220.63 163.33 1220.93 199.23 1221.63 160.4 1221.93 203.44 1222.63 169.34 1222.93 194.74 1223.63 172.64 1223.93 191.78 1224.63 174.71 1224.93 190.25 1225.63 173.05 1225.93 192.34 1226.63 172.11 1226.93 191.69 1227.64 166.93 1227.94 197.01 1228.64 167.58 1228.94 196.35 1229.64 170.78 1229.94 194.28 1230.64 173.56 1230.94 190.57 1231.64 164.94 1231.94 199.43 1232.64 168.45 1232.94 196.57 1233.64 174.24 1233.94 191.32 1234.64 172.77 1234.94 190.7 1235.64 174.65 1235.94 190.63 1236.64 166.09 1236.94 199.13 1237.64 167.91 1237.94 196.92 1238.64 173.36 1238.94 192.49 1239.64 167.76 1239.94 195.43 1240.65 166.44 1240.95 192.75 1241.65 163.19 1241.95 202.06 1242.65 173.45 1242.95 193.25 1243.65 165.1 1243.95 199.74 1244.65 98.42 1244.95 266.99 1245.65 165.1 1245.95 199.74 1246.65 171.09 1246.95 192.16 1247.65 172.88 1247.95 192.09 1248.65 172.81 1248.95 191.98 1249.65 173.33 1249.95 190.29 1250.65 173.79 1250.95 191.08 1251.65 173.18 1251.95 192.12 1252.65 172.2 1252.95 192.74 1253.66 165.6 1253.96 199.88 1254.66 165.63 1254.96 199.04 1255.66 174.92 1255.96 191.53 1256.66 164.72 1256.96 203.65 1257.66 173.69 1257.96 190.29 1258.66 168.98 1258.96 195.21 1259.66 167.07 1259.96 197.11 1260.66 157.62 1260.96 206.77 1261.66 154.81 1261.96 200.79 1262.66 168.48 1262.96 195.76 1263.66 165.46 1263.96 198.25 1264.66 173.02 1264.96 192.43 1265.66 162.64 1265.96 199.89 1266.66 173.09 1266.96 189.7 1267.67 173.28 1267.97 190.63 1268.67 173.7 1268.97 192.24 1269.67 173.75 1269.97 191.65 1270.67 173.08 1270.97 190.8 1271.67 173.84 1271.97 191.02 1272.67 173.21 1272.97 190.91 1273.67 165.9 1273.97 196.62 1274.67 167.7 1274.97 194.78 1275.67 173.11 1275.97 191.87 1276.67 173.17 1276.97 193.21 1277.67 175.15 1277.97 190.19 1278.67 169.81 1278.97 195.96 1279.67 173.93 1279.97 191.38 1280.68 172.58 1280.98 192.27 1281.68 167.33 1281.98 196.39 1282.68 151.75 1282.98 211.21 1283.68 168.3 1283.98 196.39 1284.68 172.35 1284.98 191.48 1285.68 164.78 1285.98 200.16 1286.68 167.88 1286.98 197.12 1287.68 170.65 1287.98 193.14 1288.68 169.66 1288.98 196.01 1289.68 172.04 1289.98 192.09 1290.68 171.01 1290.98 194.29 1291.68 174.42 1291.98 191.52 1292.68 169.34 1292.98 195.74 1293.69 174.71 1293.99 190.79 1294.69 172.21 1294.99 192.53 1295.69 172.98 1295.99 191.83 1296.69 173.67 1296.99 191.53 1297.69 170.66 1297.99 193.56 1298.69 168.42 1298.99 198.09 1299.69 173.01 1299.99 191.36 1300.69 174.34 1300.99 190.32 1301.69 173.83 1301.99 193.24 1302.69 173.59 1302.99 191.29 1303.69 171.05 1303.99 192.19 1304.69 169.44 1304.99 193.21 1305.69 171.8 1305.99 192.59 1306.69 173.53 1306.99 191.57 1307.7 171.42 1308 191.99 1308.7 175.67 1309 190.66 1309.7 172.28 1310 194.07 1310.7 169.32 1311 198.29 1311.7 172.59 1312 191.77 1312.7 168.39 1313 198.82 1313.7 172.28 1314 192.58 1314.7 168.53 1315 199.12 1315.7 173.75 1316 191.45 1316.7 173.41 1317 191.28 1317.7 173.16 1318 191.09 1318.7 173.77 1319 189.93 1319.7 167.93 1320 196.94 1320.71 145.62 1321.01 220.41 1321.71 167.93 1322.01 196.94 1322.71 173.8 1323.01 191.23 1323.71 172.86 1324.01 192.14 1324.71 173 1325.01 192.74 1325.71 172.67 1326.01 193.87 1326.71 173.53 1327.01 190.99 1327.71 174.08 1328.01 191.91 1328.71 173 1329.01 191.91 1329.71 167.75 1330.01 199.49 1330.71 174.84 1331.01 191.7 1331.71 174.3 1332.01 191.36 1332.71 172.17 1333.01 193.69 1333.72 169.66 1334.02 194.55 1334.72 171.88 1335.02 191.99 1335.72 172.47 1336.02 192.51 1336.72 167.57 1337.02 197.93 1337.72 173.11 1338.02 190.95 1338.72 173.89 1339.02 192.14 1339.72 175 1340.02 191.68 1340.72 172.85 1341.02 192.82 1341.72 172.17 1342.02 192.96 1342.72 173.2 1343.02 192.11 1343.72 166.64 1344.02 197.04 1344.72 173.87 1345.02 192.16 1345.72 161.31 1346.02 203.45 1346.72 172.48 1347.02 193.17 1347.73 172.63 1348.03 189.98 1348.73 166.44 1349.03 197.08 1349.73 172.76 1350.03 194.43 1350.73 170.99 1351.03 192.5 1351.73 173.74 1352.03 192.19 1352.73 172.61 1353.03 191.6 1353.73 173.88 1354.03 190.66 1354.73 168.29 1355.03 197.48 1355.73 174.27 1356.03 189.81 1356.73 171.98 1357.03 192.91 1357.73 172.78 1358.03 191.9 1358.73 173.5 1359.03 190.67 1359.73 172.58 1360.03 191.05 1360.74 168.2 1361.04 196.9 1361.74 169.4 1362.04 194.73 1362.74 165.1 1363.04 197.32 1363.74 172.6 1364.04 193.29 1364.74 172.41 1365.04 192.14 1365.74 167.01 1366.04 197.68 1366.74 130.3 1367.04 232.67 1367.74 165.61 1368.04 197.68 1368.74 161.48 1369.04 201.63 1369.74 174.7 1370.04 191.49 1370.74 165.12 1371.04 198.66 1371.74 172.49 1372.04 192.22 1372.74 165.28 1373.04 201.26 1373.75 160.66 1374.05 204.08 1374.75 172.76 1375.05 190.42 1375.75 174.43 1376.05 191.65 1376.75 166.14 1377.05 196.56 1377.75 172.74 1378.05 191.59 1378.75 165.75 1379.05 197.42 1379.75 172.53 1380.05 190.66 1380.75 156.86 1381.05 207.51 1381.75 174.01 1382.05 191.03 1382.75 169.56 1383.05 194.79 1383.75 173.12 1384.05 191.99 1384.75 172.16 1385.05 192.63 1385.75 171.72 1386.05 192.98 1386.75 159.4 1387.05 203.36 1387.76 170.86 1388.06 193.47 1388.76 165.1 1389.06 199.55 1389.76 98.42 1390.06 263.93 1390.76 165.1 1391.06 199.55 1391.76 172.19 1392.06 192.93 1392.76 174.84 1393.06 191.54 1393.76 174.05 1394.06 190.52 1394.76 167.13 1395.06 199.13 1395.76 170.59 1396.06 193.49 1396.76 172.64 1397.06 191.38 1397.76 169.76 1398.06 194.22 1398.76 167.2 1399.06 198.63 1399.76 172.48 1400.06 190.66 1400.77 173.62 1401.07 191.8 1401.77 172.25 1402.07 192.21 1402.77 171.78 1403.07 192.22 1403.77 173.84 1404.07 190.02 1404.77 170.32 1405.07 193.9 1405.77 172.48 1406.07 193.37 1406.77 171.65 1407.07 191.68 1407.77 171.27 1408.07 192.34 1408.77 169.99 1409.07 194.13 1409.77 170.44 1410.07 194.76 1410.77 172.01 1411.07 192.09 1411.77 172.73 1412.07 191.36 1412.77 172.5 1413.07 191.9 1413.78 171.07 1414.08 191.64 1414.78 174.15 1415.08 192.05 1415.78 166.89 1416.08 196.29 1416.78 174.44 1417.08 190.36 1417.78 173.99 1418.08 191.11 1418.78 172.85 1419.08 193.4 1419.78 162.87 1420.08 202.03 1420.78 166.21 1421.08 196.73 1421.78 173.56 1422.08 191.37 1422.78 171.03 1423.08 192.34 1423.78 166.83 1424.08 198.13 1424.78 172.34 1425.08 192.22 1425.78 169.17 1426.08 197.1 1426.78 171.31 1427.08 193.37 1427.79 168.3 1428.09 196.5 1428.79 151.75 1429.09 213.05 1429.79 168.3 1430.09 196.5 1430.79 171.32 1431.09 195.22 1431.79 172.32 1432.09 192.05 1432.79 173.75 1433.09 191.09 1433.79 173.09 1434.09 190.97 1434.79 173.99 1435.09 192.03 1435.79 163.87 1436.09 202.44 1436.79 173.1 1437.09 191.71 1437.79 172.68 1438.09 190.96 1438.79 172.16 1439.09 192.29 1439.79 167.02 1440.09 199.52 1440.8 168.57 1441.1 199.44 1441.8 173.12 1442.1 192.31 1442.8 172.96 1443.1 191.47 1443.8 172.87 1444.1 190.99 1444.8 174.4 1445.1 190.37 1445 172.82 1445.3 192.69 1445 172.55 1445.3 191.96" stroke="#0072BD" stroke-width="1.9" fill="none" stroke-linejoin="round"/></g>
<text x="902.8" y="68.7" font-size="22.3" text-anchor="end">0.2</text>
<text x="902.8" y="130" font-size="22.3" text-anchor="end">0.1</text>
<text x="902.8" y="191.3" font-size="22.3" text-anchor="end">0</text>
<text x="902.8" y="252.6" font-size="22.3" text-anchor="end">-0.1</text>
<text x="902.8" y="313.9" font-size="22.3" text-anchor="end">-0.2</text>
<text x="913.4" y="335.7" font-size="22.3" text-anchor="middle">0</text>
<text x="1091.2" y="335.7" font-size="22.3" text-anchor="middle">0.5</text>
<text x="1269" y="335.7" font-size="22.3" text-anchor="middle">1</text>
<text x="1446.8" y="335.7" font-size="22.3" text-anchor="middle">1.5</text>
<text x="1179" y="366.5" font-size="25" text-anchor="middle">Time [s]</text>
<text transform="translate(855.8,182) rotate(-90)" font-size="25" text-anchor="middle">Amplitude</text>
<text x="822.5" y="63.8" font-size="32" fill="#000">(b)</text>
<path d="M989.62 399.9V447.46" stroke="#000" stroke-width="1.6"/>
<text x="989.62" y="394.8" font-size="22.3" text-anchor="middle" fill="#000">BPFI</text>
<path d="M1066.55 399.9V447.46" stroke="#000" stroke-width="1.6"/>
<text x="1066.55" y="394.8" font-size="22.3" text-anchor="middle" fill="#000">2X</text>
<path d="M1143.47 399.9V447.46" stroke="#000" stroke-width="1.6"/>
<text x="1143.47" y="394.8" font-size="22.3" text-anchor="middle" fill="#000">3X</text>
<path d="M1220.4 399.9V447.46" stroke="#000" stroke-width="1.6"/>
<text x="1220.4" y="394.8" font-size="22.3" text-anchor="middle" fill="#000">4X</text>
<g stroke="#262626" stroke-width="1.5" fill="none">
<rect x="912.7" y="399.9" width="533.3" height="237.8"/>
<path d="M1019.54 637.7v-6.5M1019.54 399.9v6.5M1126.38 637.7v-6.5M1126.38 399.9v6.5M1233.22 637.7v-6.5M1233.22 399.9v6.5M1340.06 637.7v-6.5M1340.06 399.9v6.5M912.7 558.43h6.5M1446 558.43h-6.5M912.7 479.17h6.5M1446 479.17h-6.5"/>
</g>
<clipPath id="cc"><rect x="912.7" y="399.9" width="533.3" height="238.8"/></clipPath>
<g clip-path="url(#cc)"><path d="M912.7 637.7 913.41 558.43 914.12 560.58 914.84 627.48 915.55 604.62 916.26 621.98 916.97 596.57 917.69 547.8 918.4 596.25 919.11 574.26 919.82 619.38 920.53 549.72 921.25 612.01 921.96 607.68 922.67 581.98 923.38 526.2 924.1 558.57 924.81 540.6 925.52 558.81 926.23 591.14 926.95 589.33 927.66 563.97 928.37 509 929.08 552.48 929.79 548.22 930.51 559.62 931.22 581.53 931.93 609.36 932.64 598.44 933.36 599.67 934.07 596.36 934.78 586.35 935.49 579.93 936.2 605.31 936.92 557.2 937.63 564.42 938.34 554.64 939.05 601.46 939.77 574.82 940.48 571.7 941.19 592.58 941.9 590.9 942.62 557.7 943.33 576.51 944.04 552.35 944.75 481.7 945.46 557.21 946.18 555.5 946.89 559.58 947.6 553.81 948.31 568.77 949.03 510.4 949.74 599.39 950.45 558.54 951.16 613.14 951.87 592.57 952.59 605.36 953.3 578.61 954.01 555.06 954.72 494.6 955.44 560.18 956.15 560.66 956.86 572.91 957.57 497.5 958.29 559.86 959 588.47 959.71 566.66 960.42 477.4 961.13 557.73 961.85 570.39 962.56 611.19 963.27 610.26 963.98 559.04 964.7 596.3 965.41 539 966.12 625.09 966.83 576.78 967.54 562.06 968.26 556.6 968.97 609.29 969.68 559.46 970.39 610.85 971.11 596.22 971.82 595.66 972.53 582.31 973.24 586.73 973.95 585.51 974.67 586 975.38 554.88 976.09 457.2 976.8 608.63 977.52 562.85 978.23 601.63 978.94 574.8 979.65 556.23 980.37 621.58 981.08 565.32 981.79 626.41 982.5 587.71 983.21 592.64 983.93 574.09 984.64 566.03 985.35 624.65 986.06 621.2 986.78 581.17 987.49 572.61 988.2 613.84 988.91 580.63 989.62 613.89 990.34 517 991.05 551.58 991.76 563.22 992.47 574.87 993.19 591.77 993.9 558.72 994.61 571.59 995.32 627.68 996.04 576.78 996.75 542 997.46 590.98 998.17 593.92 998.88 598.83 999.6 604.25 1000.31 568.53 1001.02 573.71 1001.73 613.36 1002.45 569.83 1003.16 567.48 1003.87 572 1004.58 608.41 1005.29 601.41 1006.01 605.13 1006.72 496 1007.43 559.68 1008.14 582.03 1008.86 615.56 1009.57 615.74 1010.28 599.32 1010.99 498.3 1011.71 589.77 1012.42 606.59 1013.13 618.26 1013.84 611.81 1014.55 602.31 1015.27 579.07 1015.98 603.17 1016.69 589.29 1017.4 601.8 1018.12 620.54 1018.83 620.56 1019.54 607.38 1020.25 609.81 1020.96 623.39 1021.68 501 1022.39 591.51 1023.1 606.02 1023.81 568.29 1024.53 601.88 1025.24 611.64 1025.95 601.67 1026.66 579.4 1027.37 605.6 1028.09 606.8 1028.8 564.97 1029.51 589.09 1030.22 573.88 1030.94 564.1 1031.65 526.2 1032.36 589.64 1033.07 616.78 1033.79 558.96 1034.5 569.1 1035.21 581.61 1035.92 611.5 1036.63 558.17 1037.35 627.22 1038.06 490.3 1038.77 561.18 1039.48 603.72 1040.2 571.68 1040.91 558.03 1041.62 578.18 1042.33 604.91 1043.04 520.5 1043.76 599.04 1044.47 561.03 1045.18 617.39 1045.89 562.45 1046.61 573.94 1047.32 625.86 1048.03 581.59 1048.74 610.18 1049.46 591.48 1050.17 592.08 1050.88 619.4 1051.59 570.29 1052.3 560.53 1053.02 587.09 1053.73 493.2 1054.44 582.48 1055.15 599.51 1055.87 586.81 1056.58 597.28 1057.29 615.76 1058 568.81 1058.71 601.91 1059.43 620.04 1060.14 627.23 1060.85 596.01 1061.56 617.84 1062.28 579.33 1062.99 623.98 1063.7 630.66 1064.41 621.35 1065.13 571.62 1065.84 579.73 1066.55 569.1 1067.26 571.94 1067.97 610.57 1068.69 500.3 1069.4 591.05 1070.11 606.39 1070.82 601.72 1071.54 607.92 1072.25 621.08 1072.96 575.94 1073.67 577.84 1074.38 627.53 1075.1 610.01 1075.81 608.07 1076.52 572.91 1077.23 593.47 1077.95 596.07 1078.66 608.58 1079.37 587.4 1080.08 569.05 1080.79 558.43 1081.51 628.99 1082.22 592.58 1082.93 626.59 1083.64 570.96 1084.36 515.3 1085.07 600.54 1085.78 605.99 1086.49 624.5 1087.21 568.25 1087.92 567.37 1088.63 524.8 1089.34 566.82 1090.05 628.29 1090.77 569.65 1091.48 626.84 1092.19 561.11 1092.9 576.48 1093.62 568.72 1094.33 577.15 1095.04 568.06 1095.75 578.1 1096.46 568.21 1097.18 627.5 1097.89 582.84 1098.6 571.61 1099.31 569.44 1100.03 626.97 1100.74 596.06 1101.45 589.59 1102.16 611.74 1102.88 598.92 1103.59 572.3 1104.3 562.04 1105.01 524.2 1105.72 567.79 1106.44 617.21 1107.15 597.86 1107.86 622.06 1108.57 614.53 1109.29 592.68 1110 583.43 1110.71 608.75 1111.42 524.8 1112.13 570.49 1112.85 577.79 1113.56 590.79 1114.27 581.55 1114.98 605.21 1115.7 587.89 1116.41 582.66 1117.12 626.64 1117.83 627.79 1118.55 604.48 1119.26 574.18 1119.97 544 1120.68 571.82 1121.39 607.62 1122.11 606.94 1122.82 570.8 1123.53 602.54 1124.24 594.98 1124.96 575.02 1125.67 605.13 1126.38 630.2 1127.09 590.25 1127.8 604.36 1128.52 598.26 1129.23 607.8 1129.94 585.7 1130.65 515.3 1131.37 574.36 1132.08 603.63 1132.79 610.93 1133.5 593.75 1134.21 577.39 1134.93 567.79 1135.64 609.75 1136.35 624.18 1137.06 602.55 1137.78 579.46 1138.49 589.4 1139.2 577.71 1139.91 594.93 1140.63 605.56 1141.34 588.28 1142.05 579.08 1142.76 587.68 1143.47 629.5 1144.19 605.87 1144.9 598.54 1145.61 605.26 1146.32 617.11 1147.04 536.3 1147.75 626.76 1148.46 597.01 1149.17 628.38 1149.88 607.32 1150.6 539 1151.31 568.48 1152.02 600.68 1152.73 619.59 1153.45 567.33 1154.16 567.58 1154.87 603.78 1155.58 625.96 1156.3 619.43 1157.01 571.16 1157.72 622.96 1158.43 600.53 1159.14 609.03 1159.86 612.4 1160.57 622.21 1161.28 630.43 1161.99 616.26 1162.71 589.86 1163.42 606.15 1164.13 583.27 1164.84 598.93 1165.55 582.27 1166.27 614.64 1166.98 612.39 1167.69 568.2 1168.4 570.62 1169.12 592.03 1169.83 564.72 1170.54 573.29 1171.25 572.77 1171.97 594.82 1172.68 536.8 1173.39 588.61 1174.1 566.59 1174.81 599.93 1175.53 594.82 1176.24 621.25 1176.95 606.23 1177.66 618.25 1178.38 571.27 1179.09 562.58 1179.8 572.01 1180.51 584.08 1181.22 594.14 1181.94 603.94 1182.65 608.51 1183.36 579.83 1184.07 627.94 1184.79 572.88 1185.5 603.54 1186.21 608.17 1186.92 578.6 1187.63 533.4 1188.35 570.71 1189.06 595.01 1189.77 572.74 1190.48 595.69 1191.2 567.09 1191.91 610.75 1192.62 609.86 1193.33 563.36 1194.05 575.04 1194.76 617.11 1195.47 581.42 1196.18 601.47 1196.89 619.92 1197.61 581.44 1198.32 563.75 1199.03 575.01 1199.74 540.6 1200.46 602.2 1201.17 624.48 1201.88 615.24 1202.59 578.52 1203.3 593.04 1204.02 572.96 1204.73 566.42 1205.44 571.08 1206.15 585.03 1206.87 614.26 1207.58 580.03 1208.29 599.61 1209 578.68 1209.72 598.52 1210.43 595.17 1211.14 589.9 1211.85 610.52 1212.56 573.26 1213.28 571.81 1213.99 592.67 1214.7 593.39 1215.41 591.12 1216.13 581.52 1216.84 605 1217.55 618.58 1218.26 621.35 1218.97 586.12 1219.69 600.68 1220.4 589.54 1221.11 577.8 1221.82 587.65 1222.54 612.96 1223.25 574.31 1223.96 572.5 1224.67 614.37 1225.39 612.33 1226.1 549.2 1226.81 598.06 1227.52 567.33 1228.23 590.62 1228.95 546.3 1229.66 577 1230.37 578.49 1231.08 602.92 1231.8 604.83 1232.51 591.3 1233.22 576.97 1233.93 586.5 1234.64 622.67 1235.36 626 1236.07 578.38 1236.78 608.58 1237.49 621.65 1238.21 612.13 1238.92 577.83 1239.63 564.06 1240.34 571.73 1241.05 622.89 1241.77 587.47 1242.48 605.62 1243.19 598.74 1243.9 597.77 1244.62 603.94 1245.33 609.43 1246.04 589.48 1246.75 605.08 1247.47 606.72 1248.18 614.5 1248.89 568.28 1249.6 601.33 1250.31 602.11 1251.03 601.16 1251.74 590.23 1252.45 616.58 1253.16 622.12 1253.88 538.6 1254.59 576.74 1255.3 615.56 1256.01 582.66 1256.72 611.51 1257.44 605.77 1258.15 567.27 1258.86 582.22 1259.57 572.77 1260.29 612.66 1261 595.94 1261.71 549.2 1262.42 574.35 1263.14 626.96 1263.85 576.44 1264.56 583.87 1265.27 571.81 1265.98 577.16 1266.7 616.33 1267.41 592.4 1268.12 581.84 1268.83 537.1 1269.55 588.87 1270.26 607.67 1270.97 578.38 1271.68 628.98 1272.39 594.58 1273.11 590.38 1273.82 610.27 1274.53 603.87 1275.24 574.61 1275.96 565.95 1276.67 618.93 1277.38 570.57 1278.09 602.37 1278.81 597.88 1279.52 583.69 1280.23 593.83 1280.94 592.28 1281.65 598.07 1282.37 610.14 1283.08 606.41 1283.79 554.4 1284.5 590.32 1285.22 576.84 1285.93 605.08 1286.64 571.04 1287.35 594.66 1288.06 610.33 1288.78 585.07 1289.49 611.74 1290.2 594.26 1290.91 597.4 1291.63 626.31 1292.34 578.6 1293.05 614.06 1293.76 626.27 1294.47 609.86 1295.19 594.84 1295.9 596.05 1296.61 590.53 1297.32 552.1 1298.04 573.5 1298.75 588.45 1299.46 590.07 1300.17 620.63 1300.89 627.18 1301.6 566.39 1302.31 615.03 1303.02 611.43 1303.73 610.28 1304.45 611.63 1305.16 584.91 1305.87 583.6 1306.58 567.7 1307.3 623.24 1308.01 578.79 1308.72 601.7 1309.43 608.56 1310.14 571.84 1310.86 603.95 1311.57 618.48 1312.28 611.13 1312.99 573.41 1313.71 575.8 1314.42 588.79 1315.13 570.19 1315.84 611.74 1316.56 588.32 1317.27 555.8 1317.98 612.2 1318.69 618.5 1319.4 567.96 1320.12 567.39 1320.83 612.98 1321.54 601.24 1322.25 591.4 1322.97 586.14 1323.68 584.02 1324.39 599.49 1325.1 625.27 1325.81 566.79 1326.53 590.06 1327.24 576.8 1327.95 611.6 1328.66 560.4 1329.38 579.73 1330.09 622.08 1330.8 617.49 1331.51 612.77 1332.23 628.13 1332.94 622.97 1333.65 587.82 1334.36 563 1335.07 583.85 1335.79 576.31 1336.5 628.41 1337.21 581.4 1337.92 579.72 1338.64 621.69 1339.35 601.94 1340.06 608.73 1340.77 582.64 1341.48 618.28 1342.2 610.84 1342.91 597.41 1343.62 566.59 1344.33 603.99 1345.05 615.41 1345.76 577.8 1346.47 608.14 1347.18 596.14 1347.89 595.43 1348.61 593.48 1349.32 550.6 1350.03 613.51 1350.74 620.9 1351.46 607.07 1352.17 568.1 1352.88 586.02 1353.59 608.61 1354.31 614.92 1355.02 630.66 1355.73 620.6 1356.44 588.51 1357.15 595.22 1357.87 570.36 1358.58 600.36 1359.29 575.35 1360 592.6 1360.72 627.91 1361.43 565.9 1362.14 614.16 1362.85 574.3 1363.56 597.87 1364.28 622.83 1364.99 612.19 1365.7 618.44 1366.41 594.19 1367.13 576.34 1367.84 609.11 1368.55 582.7 1369.26 608.57 1369.98 585 1370.69 564.7 1371.4 606.86 1372.11 624.83 1372.82 617.39 1373.54 623.69 1374.25 591.15 1374.96 570.93 1375.67 613.86 1376.39 628.62 1377.1 606.19 1377.81 566.4 1378.52 620.7 1379.23 592.81 1379.95 630.88 1380.66 569.78 1381.37 574.4 1382.08 609.48 1382.8 624.3 1383.51 607.42 1384.22 596.06 1384.93 619.27 1385.65 627.1 1386.36 615.41 1387.07 600.32 1387.78 592.46 1388.49 602.32 1389.21 613.56 1389.92 567.49 1390.63 587.31 1391.34 572.35 1392.06 565.7 1392.77 602.58 1393.48 577.49 1394.19 612.64 1394.9 624.31 1395.62 554 1396.33 594.3 1397.04 598.67 1397.75 617.52 1398.47 602.07 1399.18 593.62 1399.89 618.31 1400.6 617.34 1401.31 590.21 1402.03 627.37 1402.74 579.16 1403.45 611.65 1404.16 614.79 1404.88 627.21 1405.59 613.1 1406.3 627.29 1407.01 610.55 1407.73 605.15 1408.44 572.33 1409.15 606.32 1409.86 628.18 1410.57 565.68 1411.29 598.41 1412 538.3 1412.71 603.32 1413.42 592.31 1414.14 585.76 1414.85 590.55 1415.56 574.19 1416.27 599.47 1416.98 622.25 1417.7 611.25 1418.41 572.53 1419.12 603.27 1419.83 620.02 1420.55 574.51 1421.26 593.56 1421.97 603.84 1422.68 624.88 1423.4 606.97 1424.11 594.1 1424.82 577.31 1425.53 573.97 1426.24 541.1 1426.96 599.65 1427.67 594.65 1428.38 625.78 1429.09 607.87 1429.81 605.25 1430.52 583.23 1431.23 601.23 1431.94 599.93 1432.65 598.1 1433.37 613.55 1434.08 583 1434.79 607.63 1435.5 572.12 1436.22 614.34 1436.93 599.86 1437.64 612.81 1438.35 600.9 1439.07 613.69 1439.78 610.31 1440.49 615.95 1441.2 595.03 1441.91 606.11 1442.63 626.78 1443.34 587.45 1444.05 570.7 1444.76 615.26 1445.48 613.17 1446.19 614.52 1446.9 586.61" stroke="#0072BD" stroke-width="2" fill="none" stroke-linejoin="round"/></g>
<text x="903.3" y="408.8" font-size="22.3" text-anchor="end">1.5</text>
<text x="903.3" y="488.07" font-size="22.3" text-anchor="end">1</text>
<text x="903.3" y="567.33" font-size="22.3" text-anchor="end">0.5</text>
<text x="903.3" y="646.6" font-size="22.3" text-anchor="end">0</text>
<text x="912.7" y="669.4" font-size="22.3" text-anchor="middle">0</text>
<text x="1019.54" y="669.4" font-size="22.3" text-anchor="middle">50</text>
<text x="1126.38" y="669.4" font-size="22.3" text-anchor="middle">100</text>
<text x="1233.22" y="669.4" font-size="22.3" text-anchor="middle">150</text>
<text x="1340.06" y="669.4" font-size="22.3" text-anchor="middle">200</text>
<text x="1446.9" y="669.4" font-size="22.3" text-anchor="middle">250</text>
<text x="1179.3" y="699.4" font-size="25" text-anchor="middle">Frequency [Hz]</text>
<text transform="translate(863.2,520) rotate(-90)" font-size="25" text-anchor="middle">Amplitude</text>
<text x="823" y="390.8" font-size="32" fill="#000">(c)</text>
<text x="914.5" y="396.9" font-size="22.3"><tspan font-size="27.5">×</tspan><tspan x="932" y="394.8">10</tspan><tspan dx="2.3" dy="-13" font-size="17.5">-3</tspan></text>
</svg></body></html>
